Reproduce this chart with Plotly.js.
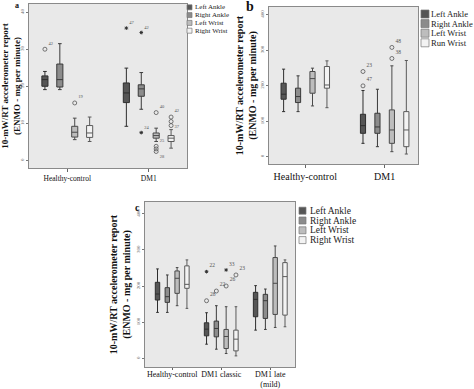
<!DOCTYPE html>
<html>
<head>
<meta charset="utf-8">
<script src="https://cdn.plot.ly/plotly-3.0.1.min.js"></script>
<style>html,body{margin:0;padding:0;background:#fff;}#chart{width:474px;height:389px;}</style>
</head>
<body>
<div id="chart"></div>
<script>
// ---------- DATA ----------
const seriesNames = ["Left Ankle", "Right Ankle", "Left Wrist", "Right Wrist"];
const seriesNamesB = ["Left Ankle", "Right Ankle", "Left Wrist", "Run Wrist"];
const catsA = ["Healthy-control", "DM1"];
const catsB = ["Healthy-control", "DM1"];
const catsC = ["Healthy-control", "DM1 classic", "DM1 late<br>(mild)"];
const tickValsA = [0, 10, 20, 30, 40];
const tickValsBC = [0, 100, 200, 300, 400];

// Panel a: rows = series (LA, RA, LW, RW), columns = categories
const aQ1     = [[20.0, 15.6], [19.8, 17.3], [6.3, 6.0], [6.2, 5.1]];
const aMedian = [[21.8, 18.2], [21.8, 19.3], [7.6, 6.7], [7.4, 6.0]];
const aQ3     = [[22.8, 20.9], [26.0, 20.4], [9.2, 7.4], [9.4, 6.7]];
const aLow    = [[19.1, 9.2], [19.1, 13.8], [5.6, 5.1], [5.1, 3.3]];
const aHigh   = [[24.0, 24.9], [31.5, 23.7], [11.4, 8.7], [11.7, 8.3]];
const aOutSeries = [0, 2, 0, 1, 1, 2, 2, 2, 2, 3, 3, 3];
const aOutCat    = [0, 0, 1, 1, 1, 1, 1, 1, 1, 1, 1, 1];
const aOutValue  = [30.0, 15.5, 35.7, 34.5, 7.5, 12.9, 3.8, 3.1, 2.4, 11.7, 10.5, 9.4];
const aOutLabel  = ["42", "19", "47", "42", "24", "40", "25", "", "28", "42", "37", ""];
const aOutExtreme = [false, false, true, true, true, false, false, false, false, false, false, false];

// Panel b
const bQ1     = [[161.9, 65.9], [152.5, 65.9], [178.8, 37.6], [193.0, 28.2]];
const bMedian = [[176.0, 87.5], [169.4, 83.8], [220.0, 75.3], [202.0, 75.3]];
const bQ3     = [[207.0, 119.5], [193.0, 122.4], [240.0, 131.8], [254.0, 127.0]];
const bLow    = [[127.0, 37.6], [127.0, 28.2], [143.0, 14.1], [138.0, 7.5]];
const bHigh   = [[246.6, 186.4], [227.8, 190.0], [249.4, 256.0], [270.0, 271.0]];
const bOutSeries = [0, 0, 2, 2];
const bOutCat    = [1, 1, 1, 1];
const bOutValue  = [240.0, 199.5, 307.8, 276.7];
const bOutLabel  = ["23", "47", "48", "38"];
const bOutExtreme = [false, false, false, false];

// Panel c
const cQ1     = [[161.7, 62.8, 115.5], [155.2, 60.0, 110.9], [180.1, 27.7, 121.9], [194.0, 21.2, 120.0]];
const cMedian = [[178.3, 81.3, 163.5], [170.9, 83.1, 159.8], [221.7, 61.0, 207.9], [205.0, 53.6, 226.3]];
const cQ3     = [[210.6, 98.8, 182.9], [195.8, 103.5, 177.4], [242.0, 80.4, 279.0], [256.0, 78.5, 265.0]];
const cLow    = [[127.5, 39.7, 78.5], [127.5, 25.9, 80.4], [146.0, 13.9, 85.9], [138.6, 7.4, 87.8]];
const cHigh   = [[247.6, 126.6, 201.4], [230.9, 146.0, 192.0], [251.3, 143.2, 311.0], [272.5, 143.2, 272.5]];
const cOutSeries = [0, 0, 1, 2, 2, 3];
const cOutCat    = [1, 1, 1, 1, 1, 1];
const cOutValue  = [240.0, 159.7, 186.5, 244.7, 200.4, 230.9];
const cOutLabel  = ["22", "28", "22", "33", "26", "23"];
const cOutExtreme = [true, false, false, true, false, false];

const yTitle = "10-mW/RT accelerometer report<br>(ENMO - mg per minute)";

// ---------- STYLE ----------
const W = 474, H = 389;
const SERIF = "Liberation Serif, DejaVu Serif, serif";
const fills = ["#565656", "#8c8c8c", "#bdbdbd", "#f3f3f3"];
const lineColors = ["#2e2e2e", "#3a3a3a", "#4a4a4a", "#5a5a5a"];
const px = x => x / W;
const py = y => 1 - y / H;

const panels = [
  {xa: "x", ya: "y", cats: catsA, names: seriesNames, q1: aQ1, med: aMedian, q3: aQ3, lo: aLow, hi: aHigh,
   os: aOutSeries, oc: aOutCat, ov: aOutValue, ol: aOutLabel, oe: aOutExtreme, spacing: 0.183, boxw: 0.075},
  {xa: "x2", ya: "y2", cats: catsB, names: seriesNamesB, q1: bQ1, med: bMedian, q3: bQ3, lo: bLow, hi: bHigh,
   os: bOutSeries, oc: bOutCat, ov: bOutValue, ol: bOutLabel, oe: bOutExtreme, spacing: 0.182, boxw: 0.065},
  {xa: "x3", ya: "y3", cats: catsC, names: seriesNames, q1: cQ1, med: cMedian, q3: cQ3, lo: cLow, hi: cHigh,
   os: cOutSeries, oc: cOutCat, ov: cOutValue, ol: cOutLabel, oe: cOutExtreme, spacing: 0.2, boxw: 0.09}
];

const traces = [];
panels.forEach((p, pi) => {
  const off = k => (k - 1.5) * p.spacing;
  p.names.forEach((nm, k) => {
    traces.push({
      type: "box", name: nm, xaxis: p.xa, yaxis: p.ya, showlegend: false,
      x: p.cats.map((c, ci) => ci + off(k)),
      q1: p.q1[k], median: p.med[k], q3: p.q3[k],
      lowerfence: p.lo[k], upperfence: p.hi[k],
      width: p.boxw, whiskerwidth: 0.6,
      fillcolor: fills[k], line: {color: lineColors[k], width: 1},
      hoverinfo: "y"
    });
  });
  [false, true].forEach(ext => {
    const idx = p.ov.map((v, i) => i).filter(i => p.oe[i] === ext);
    if (!idx.length) return;
    traces.push({
      type: "scatter", mode: "markers+text", xaxis: p.xa, yaxis: p.ya, showlegend: false,
      x: idx.map(i => p.oc[i] + off(p.os[i])),
      y: idx.map(i => p.ov[i]),
      text: idx.map(i => p.ol[i]),
      textposition: idx.map((i, j) => (j > 0 && p.ov[idx[j - 1]] > p.ov[i] && p.ov[idx[j - 1]] - p.ov[i] < 1.5 && p.oc[idx[j - 1]] === p.oc[i] && p.os[idx[j - 1]] === p.os[i]) ? "bottom right" : "top right"),
      textfont: {family: SERIF, size: pi === 0 ? 4.5 : 5.5, color: "#555"},
      marker: ext ? {symbol: "asterisk-open", size: 3, color: "#333", line: {width: 1, color: "#333"}}
                  : {symbol: "circle-open", size: 4, color: "#555", line: {width: 0.8, color: "#555"}},
      hoverinfo: "y"
    });
  });
});

function xAxis(domain, range, cats, fs) {
  return {domain, range, tickmode: "array", tickvals: cats.map((c, i) => i), ticktext: cats,
    tickangle: 0, automargin: false,
    showline: true, mirror: true, linecolor: "#8a8a8a", linewidth: 1, ticks: "outside", ticklen: 3,
    tickcolor: "#666", tickfont: {family: SERIF, size: fs, color: "#111"}, showgrid: false, zeroline: false,
    fixedrange: true};
}
function yAxis(domain, range, tv, tfs) {
  return {domain, range, tickmode: "array", tickvals: tv, showline: true, mirror: true, linecolor: "#8a8a8a",
    linewidth: 1, ticks: "outside", ticklen: 2, tickcolor: "#777", tickangle: -90, automargin: false,
    tickfont: {family: SERIF, size: 5, color: "#666"}, showgrid: false, zeroline: false, fixedrange: true,
    title: {text: yTitle, standoff: 3, font: {family: SERIF, size: tfs, color: "#111", weight: "bold"}}};
}

const layout = {
  width: W, height: H, margin: {l: 0, r: 0, t: 0, b: 0},
  paper_bgcolor: "#ffffff", plot_bgcolor: "#e9e9e9", showlegend: false, boxmode: "overlay",
  xaxis:  Object.assign(xAxis([px(29), px(187)], [-0.47, 1.47], catsA, 7.5), {anchor: "y"}),
  yaxis:  Object.assign(yAxis([py(168), py(4)], [-2.05, 42.2], tickValsA, 9), {anchor: "x"}),
  xaxis2: Object.assign(xAxis([px(269), px(418)], [-0.457, 1.42], catsB, 10), {anchor: "y2"}),
  yaxis2: Object.assign(yAxis([py(164), py(7)], [-20.6, 421.7], tickValsBC, 10), {anchor: "x2"}),
  xaxis3: Object.assign(xAxis([px(145), px(295)], [-0.555, 2.504], catsC, 8), {anchor: "y3", ticklen: 2, ticklabelstandoff: -3}),
  yaxis3: Object.assign(yAxis([py(367), py(202)], [-23.3, 432.4], tickValsBC, 10), {anchor: "x3"}),
  shapes: [], annotations: []
};
layout.yaxis2.title.standoff = 1;

// panel letters
[["a", 17, 5, 8], ["b", 250, 7, 14], ["c", 137, 208, 10]].forEach(([t, x, y, s]) => {
  layout.annotations.push({text: "<b>" + t + "</b>", x: px(x), y: py(y), xref: "paper", yref: "paper",
    xanchor: "center", yanchor: "middle", showarrow: false, font: {family: SERIF, size: s, color: "#111"}});
});

// custom legends
const legends = [
  {names: seriesNames, sx: 187, sw: 5, sh: 5, y0: 7.3, step: 7.8, tx: 194, fs: 7},
  {names: seriesNamesB, sx: 421, sw: 8, sh: 8, y0: 14, step: 9.6, tx: 430, fs: 8.6},
  {names: seriesNames, sx: 299, sw: 7, sh: 7, y0: 210.7, step: 9.8, tx: 309, fs: 9.5}
];
legends.forEach(L => {
  L.names.forEach((nm, k) => {
    const yc = L.y0 + k * L.step;
    layout.shapes.push({type: "rect", xref: "paper", yref: "paper",
      x0: px(L.sx), x1: px(L.sx + L.sw), y0: py(yc + L.sh / 2), y1: py(yc - L.sh / 2),
      fillcolor: fills[k], line: {color: "#777", width: 0.7}});
    layout.annotations.push({text: nm, x: px(L.tx), y: py(yc), xref: "paper", yref: "paper",
      xanchor: "left", yanchor: "middle", showarrow: false, borderpad: 0,
      font: {family: SERIF, size: L.fs, color: "#222"}});
  });
});

Plotly.newPlot("chart", traces, layout, {staticPlot: true, displayModeBar: false});
</script>
</body>
</html>
